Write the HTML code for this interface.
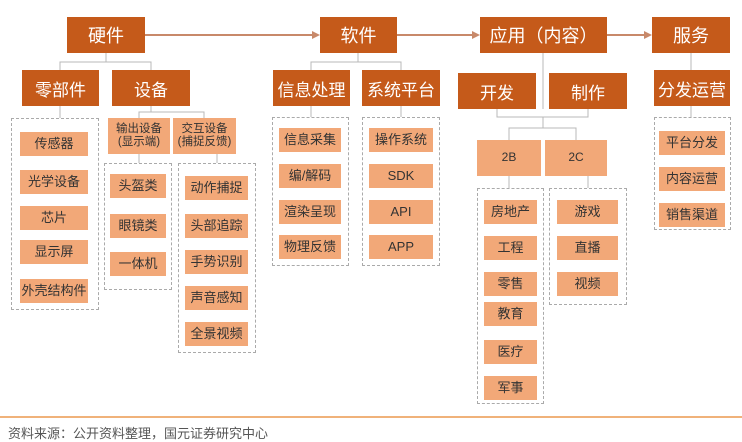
<!DOCTYPE html>
<html><head><meta charset="utf-8"><style>
body{margin:0;width:742px;height:428px;overflow:hidden;background:#fff;position:relative;font-family:"Liberation Sans","Noto Sans CJK SC",sans-serif}
.d{position:absolute;background:#c55a1a;color:#fff;display:flex;align-items:center;justify-content:center;font-size:18px}
.l{position:absolute;background:#f2a878;color:#333;display:flex;align-items:center;justify-content:center;font-size:13px;line-height:1.15;text-align:center}
.b{position:absolute;border:1px dashed #aaa;box-sizing:border-box}
svg{position:absolute;left:0;top:0}
</style></head><body>
<svg width="742" height="428">
<g stroke="#b8b8b8" stroke-width="1" fill="none">
<path d="M106 53V62H60V70M106 62H151V70"/>
<path d="M358 53V62H311V70M358 62H401V70"/>
<path d="M543 53V109"/>
<path d="M691 53V70"/>
<path d="M151 106V112H139V118M151 112H204V118"/>
<path d="M60 106V118"/><path d="M311 106V117"/><path d="M401 106V117"/><path d="M691 106V117"/>
<path d="M497 109V117H588V109M543 117V128H509V140M543 128H576V140"/>
<path d="M139 154V163"/><path d="M217 154V163"/>
<path d="M509 176V188"/><path d="M588 176V188"/>
</g>
<g stroke="#c8896a" stroke-width="2" fill="#c8896a">
<path d="M145 35H312"/><path d="M312 31L320 35L312 39Z" stroke="none"/>
<path d="M397 35H472"/><path d="M472 31L480 35L472 39Z" stroke="none"/>
<path d="M607 35H644"/><path d="M644 31L652 35L644 39Z" stroke="none"/>
</g>
<line x1="0" y1="417" x2="742" y2="417" stroke="#f0b27a" stroke-width="2"/>
</svg>
<div class="d" style="left:67px;top:17px;width:78px;height:36px">硬件</div>
<div class="d" style="left:320px;top:17px;width:77px;height:36px">软件</div>
<div class="d" style="left:480px;top:17px;width:127px;height:36px">应用（内容）</div>
<div class="d" style="left:652px;top:17px;width:78px;height:36px">服务</div>
<div class="d" style="left:22px;top:70px;width:77px;height:36px;font-size:17px">零部件</div>
<div class="d" style="left:112px;top:70px;width:78px;height:36px;font-size:17px">设备</div>
<div class="d" style="left:273px;top:70px;width:77px;height:36px;font-size:17px">信息处理</div>
<div class="d" style="left:362px;top:70px;width:78px;height:36px;font-size:17px">系统平台</div>
<div class="d" style="left:458px;top:73px;width:78px;height:36px;font-size:17px">开发</div>
<div class="d" style="left:549px;top:73px;width:78px;height:36px;font-size:17px">制作</div>
<div class="d" style="left:654px;top:70px;width:76px;height:36px;font-size:17px">分发运营</div>
<div class="l" style="left:108px;top:118px;width:62px;height:36px;font-size:11.5px">输出设备<br>(显示端)</div>
<div class="l" style="left:173px;top:118px;width:63px;height:36px;font-size:11.5px">交互设备<br>(捕捉反馈)</div>
<div class="l" style="left:477px;top:140px;width:64px;height:36px;font-size:12px">2B</div>
<div class="l" style="left:545px;top:140px;width:62px;height:36px;font-size:12px">2C</div>
<div class="b" style="left:11px;top:118px;width:88px;height:192px"></div>
<div class="l" style="left:20px;top:132px;width:68px;height:24px">传感器</div>
<div class="l" style="left:20px;top:170px;width:68px;height:24px">光学设备</div>
<div class="l" style="left:20px;top:206px;width:68px;height:24px">芯片</div>
<div class="l" style="left:20px;top:240px;width:68px;height:24px">显示屏</div>
<div class="l" style="left:20px;top:279px;width:68px;height:24px">外壳结构件</div>
<div class="b" style="left:104px;top:163px;width:68px;height:127px"></div>
<div class="l" style="left:110px;top:174px;width:56px;height:24px">头盔类</div>
<div class="l" style="left:110px;top:214px;width:56px;height:24px">眼镜类</div>
<div class="l" style="left:110px;top:252px;width:56px;height:24px">一体机</div>
<div class="b" style="left:178px;top:163px;width:78px;height:190px"></div>
<div class="l" style="left:185px;top:176px;width:63px;height:24px">动作捕捉</div>
<div class="l" style="left:185px;top:214px;width:63px;height:24px">头部追踪</div>
<div class="l" style="left:185px;top:250px;width:63px;height:24px">手势识别</div>
<div class="l" style="left:185px;top:286px;width:63px;height:24px">声音感知</div>
<div class="l" style="left:185px;top:322px;width:63px;height:24px">全景视频</div>
<div class="b" style="left:272px;top:117px;width:77px;height:149px"></div>
<div class="l" style="left:279px;top:128px;width:62px;height:24px">信息采集</div>
<div class="l" style="left:279px;top:164px;width:62px;height:24px">编/解码</div>
<div class="l" style="left:279px;top:200px;width:62px;height:24px">渲染呈现</div>
<div class="l" style="left:279px;top:235px;width:62px;height:24px">物理反馈</div>
<div class="b" style="left:362px;top:117px;width:78px;height:149px"></div>
<div class="l" style="left:369px;top:128px;width:64px;height:24px">操作系统</div>
<div class="l" style="left:369px;top:164px;width:64px;height:24px">SDK</div>
<div class="l" style="left:369px;top:200px;width:64px;height:24px">API</div>
<div class="l" style="left:369px;top:235px;width:64px;height:24px">APP</div>
<div class="b" style="left:477px;top:188px;width:67px;height:216px"></div>
<div class="l" style="left:484px;top:200px;width:53px;height:24px">房地产</div>
<div class="l" style="left:484px;top:236px;width:53px;height:24px">工程</div>
<div class="l" style="left:484px;top:272px;width:53px;height:24px">零售</div>
<div class="l" style="left:484px;top:302px;width:53px;height:24px">教育</div>
<div class="l" style="left:484px;top:340px;width:53px;height:24px">医疗</div>
<div class="l" style="left:484px;top:376px;width:53px;height:24px">军事</div>
<div class="b" style="left:549px;top:188px;width:78px;height:117px"></div>
<div class="l" style="left:557px;top:200px;width:61px;height:24px">游戏</div>
<div class="l" style="left:557px;top:236px;width:61px;height:24px">直播</div>
<div class="l" style="left:557px;top:272px;width:61px;height:24px">视频</div>
<div class="b" style="left:654px;top:117px;width:77px;height:113px"></div>
<div class="l" style="left:659px;top:131px;width:66px;height:24px">平台分发</div>
<div class="l" style="left:659px;top:167px;width:66px;height:24px">内容运营</div>
<div class="l" style="left:659px;top:203px;width:66px;height:24px">销售渠道</div>
<div style="position:absolute;left:8px;top:423px;font-size:13px;color:#555;white-space:nowrap">资料来源：公开资料整理，国元证券研究中心</div>
</body></html>
